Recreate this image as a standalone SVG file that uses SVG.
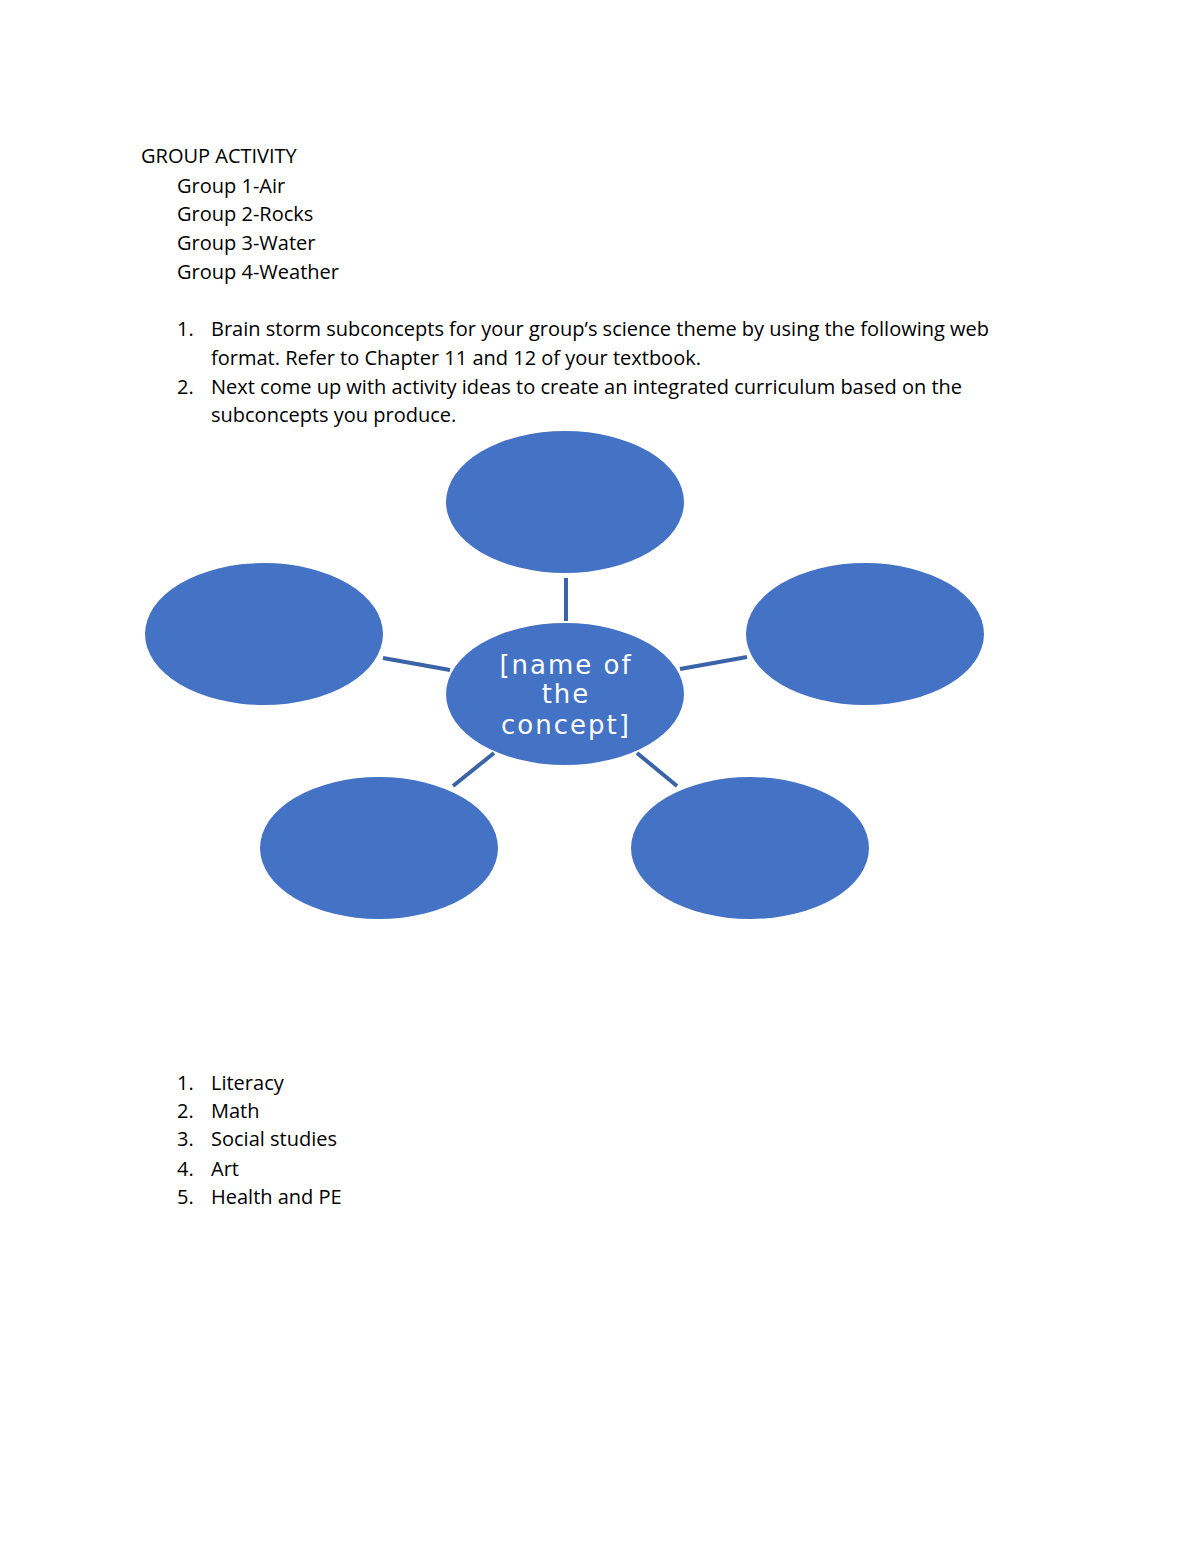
<svg xmlns="http://www.w3.org/2000/svg" width="1200" height="1553" viewBox="0 0 1200 1553">
<style>
.t{font-family:"Open Sans","Liberation Sans",sans-serif;font-size:20px;fill:#000}
.n{fill:#4472c4}
.c{stroke:#3a63a8;stroke-width:4;fill:none}
.w{font-family:"DejaVu Sans",sans-serif;font-size:26px;fill:#fff;text-anchor:middle;letter-spacing:2px}
</style>
<rect width="1200" height="1553" fill="#fff"/>
<text class="t" x="141" y="163">GROUP ACTIVITY</text>
<text class="t" x="177" y="193">Group 1-Air</text>
<text class="t" x="177" y="221">Group 2-Rocks</text>
<text class="t" x="177" y="250">Group 3-Water</text>
<text class="t" x="177" y="279">Group 4-Weather</text>
<text class="t" x="177" y="336">1.</text>
<text class="t" x="211" y="336">Brain storm subconcepts for your group’s science theme by using the following web</text>
<text class="t" x="211" y="365">format. Refer to Chapter 11 and 12 of your textbook.</text>
<text class="t" x="177" y="394">2.</text>
<text class="t" x="211" y="394">Next come up with activity ideas to create an integrated curriculum based on the</text>
<text class="t" x="211" y="422">subconcepts you produce.</text>
<g id="connectors">
<line class="c" x1="566" y1="578" x2="566" y2="621"/>
<line class="c" x1="383" y1="658" x2="450" y2="670"/>
<line class="c" x1="680" y1="669" x2="747" y2="657"/>
<line class="c" x1="494" y1="753" x2="453" y2="786"/>
<line class="c" x1="637" y1="753" x2="677" y2="786"/>
</g>
<g id="top"><ellipse class="n" cx="565" cy="502" rx="119" ry="71"/></g>
<g id="left"><ellipse class="n" cx="264" cy="634" rx="119" ry="71"/></g>
<g id="right"><ellipse class="n" cx="865" cy="634" rx="119" ry="71"/></g>
<g id="bottomleft"><ellipse class="n" cx="379" cy="848" rx="119" ry="71"/></g>
<g id="bottomright"><ellipse class="n" cx="750" cy="848" rx="119" ry="71"/></g>
<g id="center"><ellipse class="n" cx="565" cy="694" rx="119" ry="71"/>
<text class="w" x="566" y="674">[name of</text>
<text class="w" x="566" y="703">the</text>
<text class="w" x="566" y="734">concept]</text></g>
<text class="t" x="177" y="1090">1.</text><text class="t" x="211" y="1090">Literacy</text>
<text class="t" x="177" y="1118">2.</text><text class="t" x="211" y="1118">Math</text>
<text class="t" x="177" y="1146">3.</text><text class="t" x="211" y="1146">Social studies</text>
<text class="t" x="177" y="1176">4.</text><text class="t" x="211" y="1176">Art</text>
<text class="t" x="177" y="1204">5.</text><text class="t" x="211" y="1204">Health and PE</text>
</svg>
